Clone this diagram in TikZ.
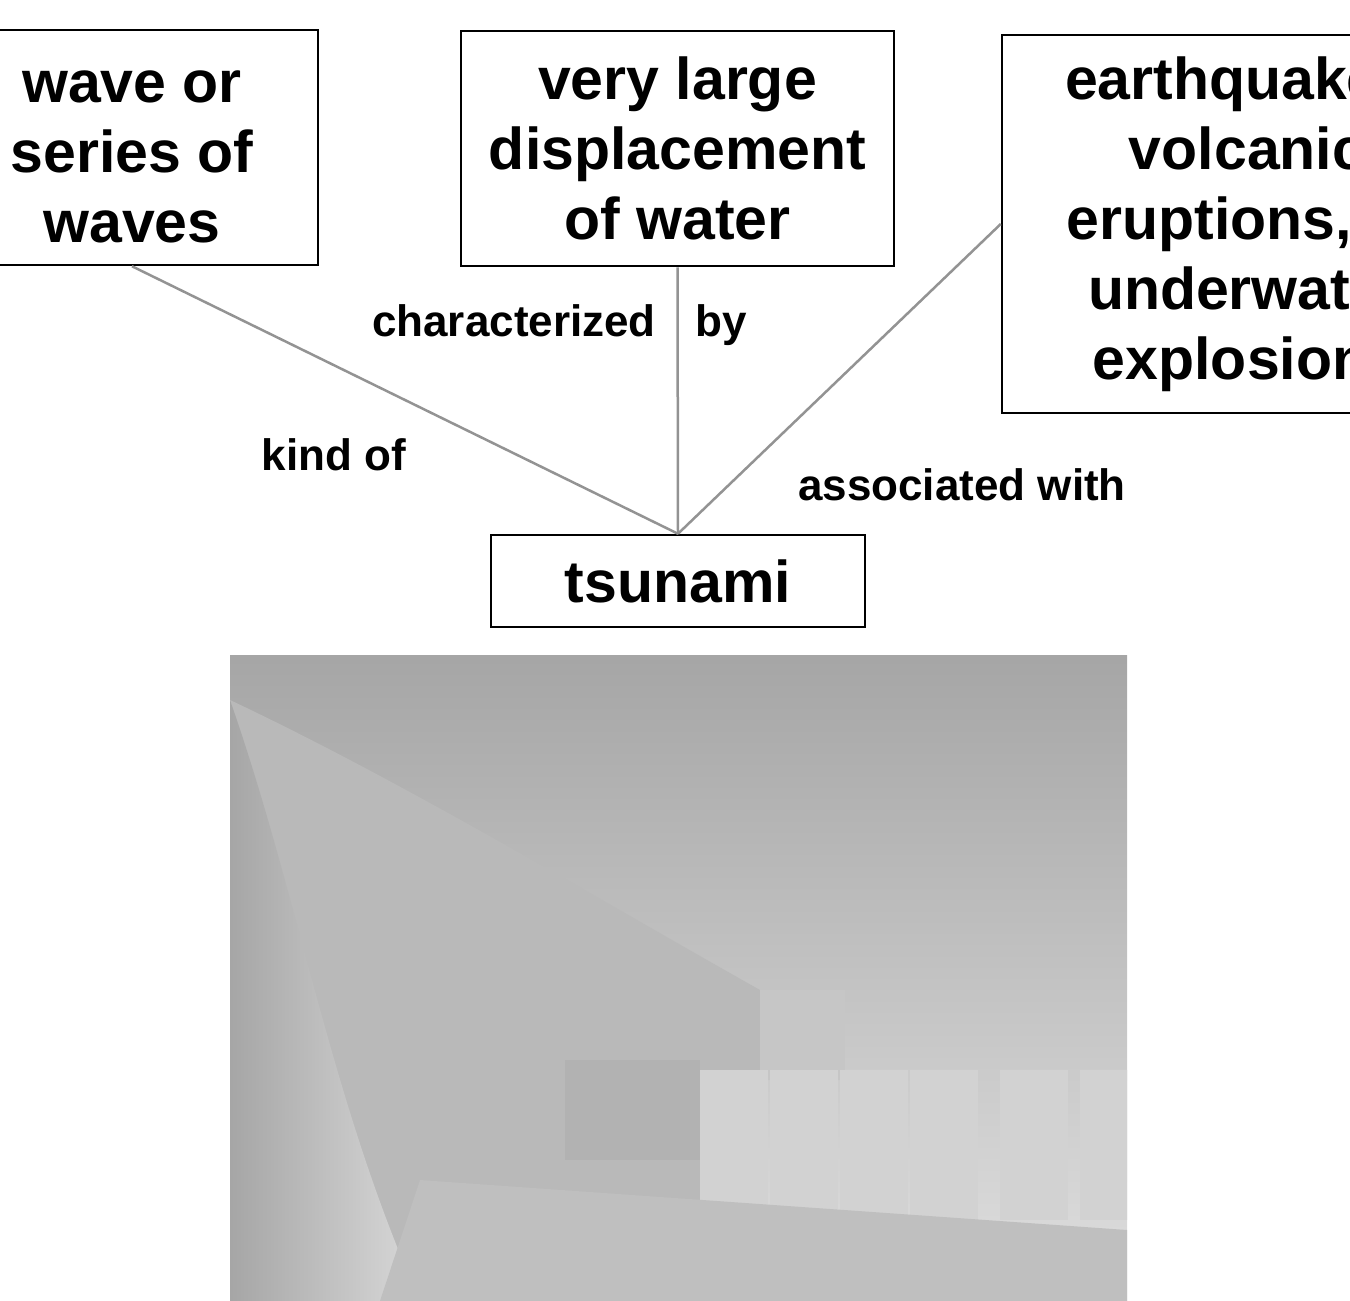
\documentclass[tikz,border=0pt]{standalone}
\usepackage{fontspec}
\setmainfont{Liberation Sans}
\begin{document}
\begin{tikzpicture}[x=1pt,y=-1pt,
  box/.style={draw,line width=2.5pt,align=center,inner sep=0pt,font=\bfseries\fontsize{59}{70}\selectfont},
  lab/.style={font=\bfseries\fontsize{44}{50}\selectfont,inner sep=0pt,anchor=base},
  link/.style={draw=gray!85,line width=2.5pt}]
\useasboundingbox (0,0) rectangle (1350,1301);
\clip (0,0) rectangle (1350,1301);
\node[box,minimum width=372pt,minimum height=235pt] (wave) at (132,147.5) {\\[-19pt]wave or\\series of\\waves};
\node[box,minimum width=433pt,minimum height=235pt] (disp) at (677.5,148.5) {very large\\displacement\\of water};
\node[box,minimum width=490pt,minimum height=378pt] (eq) at (1247,224) {earthquakes,\\volcanic\\eruptions, or\\underwater\\explosions};
\node[box,minimum width=374pt,minimum height=92pt] (ts) at (678,581) {tsunami};
\draw[link] (wave.south) -- (ts.north);
\draw[link] (disp.south) -- (ts.north);
\draw[link] (eq.west) -- (ts.north);
\node[lab] (l1) at (514,336) {characterized};
\node[lab] (l2) at (721,336) {by};
\node[lab] (l3) at (334,470) {kind of};
\node[lab] (l4) at (962,500) {associated with};
% photo
\begin{scope}
\clip (230,655) rectangle (1127,1301);
\shade[top color=gray!70,bottom color=gray!25] (230,655) rectangle (1127,1301);
\fill[gray!55] (230,700) .. controls (400,780) and (600,900) .. (760,990) -- (760,1301) -- (230,1301) -- cycle;
\shade[left color=gray!70,right color=gray!30] (230,700) .. controls (300,900) and (330,1100) .. (420,1301) -- (230,1301) -- cycle;
\fill[gray!45] (760,990) rectangle (845,1080);
\fill[gray!60] (565,1060) rectangle (700,1160);
\foreach \x in {700,770,840,910,1000,1080}{\fill[gray!35] (\x,1070) rectangle ++(68,150);}
\fill[gray!50] (420,1180) -- (1127,1230) -- (1127,1301) -- (380,1301) -- cycle;
\end{scope}
\end{tikzpicture}
\end{document}
